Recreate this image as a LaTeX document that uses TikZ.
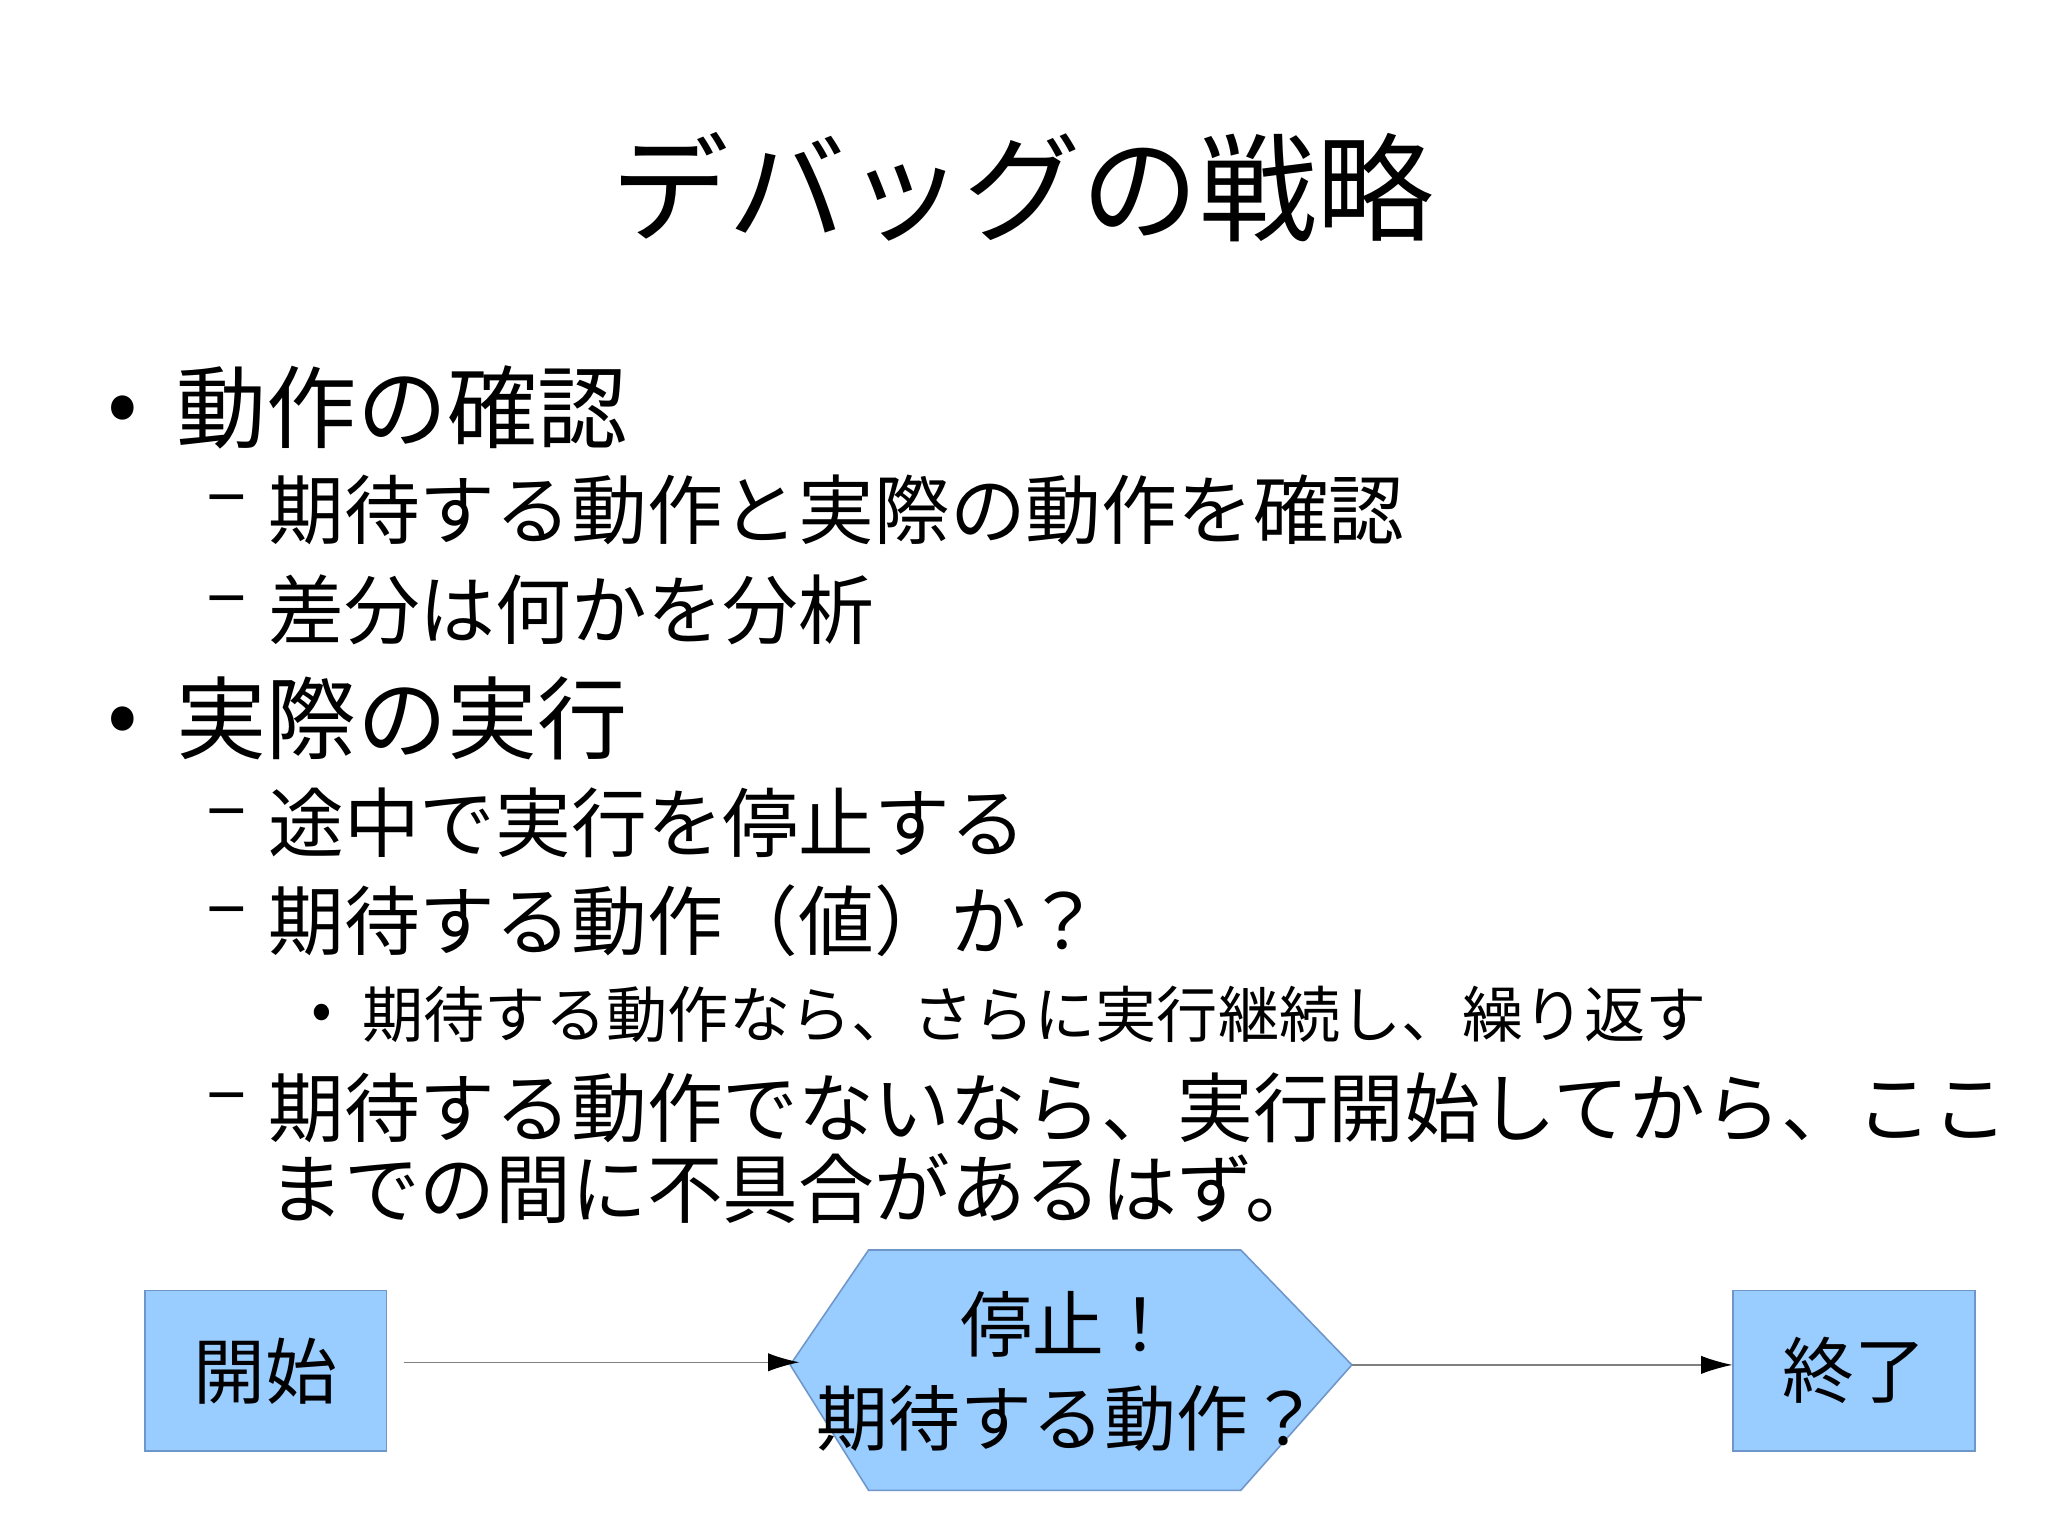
\documentclass[tikz,border=0pt]{standalone}
\usepackage{fontspec}
\setmainfont{Noto Sans CJK JP}
\usetikzlibrary{arrows.meta}
\definecolor{bfill}{HTML}{99CCFF}
\definecolor{bline}{HTML}{6F96C8}
\begin{document}
\begin{tikzpicture}[x=0.5pt,y=-0.5pt,
  t/.style={anchor=west,inner sep=0pt},
  l1/.style={t,font=\fontsize{34.5pt}{40pt}\selectfont},
  l2/.style={t,font=\fontsize{29pt}{34pt}\selectfont},
  l3/.style={t,font=\fontsize{23.4pt}{28pt}\selectfont},
  box/.style={draw=bline,fill=bfill,line width=0.6pt},
  bt/.style={font=\fontsize{27.5pt}{36pt}\selectfont,align=center},
  arr/.style={draw=gray,line width=0.5pt,-{Latex[length=12pt,width=7pt,black]}}]
\useasboundingbox[fill=white] (0,0) rectangle (1568,1176);
\node[font=\fontsize{45pt}{50pt}\selectfont,inner sep=0pt] (title) at (783,143) {デバッグの戦略};
\node[l1] (b1) at (82,318) {•};
\node[l1] (t1) at (135,312) {動作の確認};
\node[l2] (d1) at (158,388) {–};
\node[l2] (s1) at (205,390) {期待する動作と実際の動作を確認};
\node[l2] (d2) at (158,465) {–};
\node[l2] (s2) at (205,467) {差分は何かを分析};
\node[l1] (b2) at (82,556) {•};
\node[l1] (t2) at (135,550) {実際の実行};
\node[l2] (d3) at (158,628) {–};
\node[l2] (s3) at (205,630) {途中で実行を停止する};
\node[l2] (d4) at (158,703) {–};
\node[l2] (s4) at (205,705) {期待する動作（値）か？};
\node[l3] (d5) at (238,779) {•};
\node[l3] (s5) at (277,777) {期待する動作なら、さらに実行継続し、繰り返す};
\node[l2] (d6) at (158,846) {–};
\node[l2] (s6) at (205,848) {期待する動作でないなら、実行開始してから、ここ};
\node[l2] (s7) at (205,910) {までの間に不具合があるはず。};
\node[box,minimum width=92.5pt,minimum height=61.5pt] (start) at (203.5,1049.5) {};
\node[bt] at (start) {開始};
\draw[box] (605,1045) -- (665,957) -- (950,957) -- (1035,1045) -- (950,1141) -- (665,1141) -- cycle;
\coordinate (hl) at (605,1045);
\coordinate (hr) at (1035,1045);
\node[bt] (stop) at (818,1050) {停止！\\期待する動作？};
\node[box,minimum width=92.5pt,minimum height=61.5pt] (end) at (1419.5,1049.5) {};
\node[bt] at (end) {終了};
\coordinate (a0) at (309,1043);
\coordinate (a1) at (612,1043);
\draw[arr] (a0) -- (a1);
\draw[arr] (hr) -- (end.west |- hr);
\end{tikzpicture}
\end{document}
